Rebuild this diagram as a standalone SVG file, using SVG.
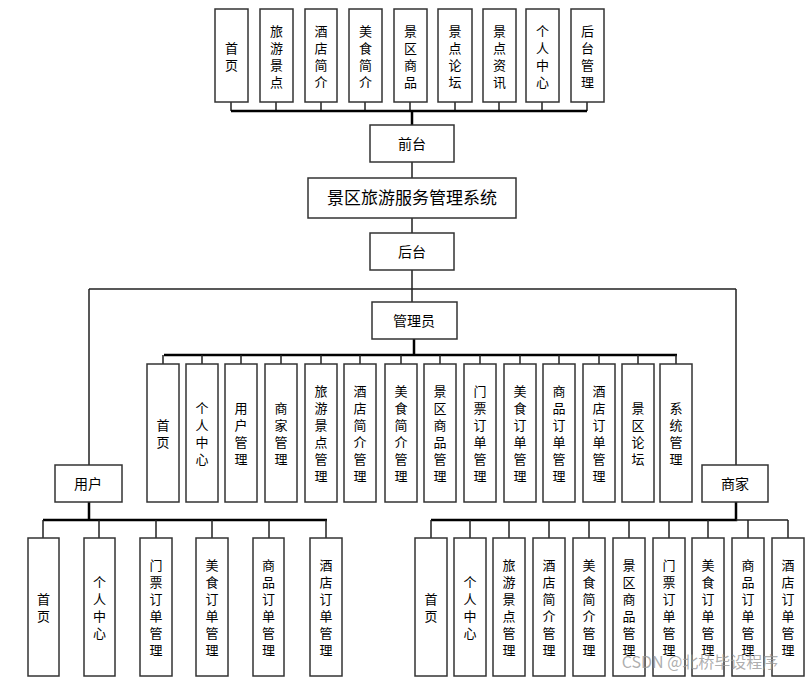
<svg xmlns="http://www.w3.org/2000/svg" width="812" height="680" viewBox="0 0 812 680">
<style>
rect{fill:#fff;stroke:#333;stroke-width:1.5}
text{font-family:"Noto Sans CJK SC","Liberation Sans",sans-serif;font-size:13px;fill:#000;text-anchor:middle}
.l{stroke:#222;stroke-width:1.5;fill:none}
.b{stroke:#000;stroke-width:2.5;fill:none}
.big{font-size:17px}
.m{font-size:14px}
</style>
<rect x="0" y="0" width="812" height="680" style="stroke:none"/>
<g id="connectors">
<path class="l" d="M231 102V111M276 102V111M321 102V111M365 102V111M410 102V111M455 102V111M499 102V111M542 102V111M587 102V111M231 111H587"/>
<path class="b" d="M231 111H587M412 111V125"/>
<path class="l" d="M412 162V178M412 218V233M412 270V302M89 289H736M89 289V465M736 289V465"/>
<path class="b" d="M414 339V355M164 355H677"/>
<path class="l" d="M163 355V364M202 355V364M241 355V364M281 355V364M321 355V364M360 355V364M401 355V364M440 355V364M480 355V364M520 355V364M559 355V364M599 355V364M638 355V364M676 355V364"/>
<path class="b" d="M89 502V520M43 520H327M736 502V520H431"/>
<path class="l" d="M43 520V538M99 520V538M156 520V538M212 520V538M269 520V538M326 520V538M431 520V538M470 520V538M509 520V538M549 520V538M589 520V538M629 520V538M669 520V538M708 520V538M748 520V538M788 520V538M788 520H736"/>
</g>
<g id="top">
<g id="t1"><rect x="215" y="9" width="33" height="93"/><text x="231.5" y="53">首</text><text x="231.5" y="70">页</text></g>
<g id="t2"><rect x="260" y="9" width="33" height="93"/><text x="276.5" y="36">旅</text><text x="276.5" y="53">游</text><text x="276.5" y="70">景</text><text x="276.5" y="87">点</text></g>
<g id="t3"><rect x="305" y="9" width="32" height="93"/><text x="321" y="36">酒</text><text x="321" y="53">店</text><text x="321" y="70">简</text><text x="321" y="87">介</text></g>
<g id="t4"><rect x="349" y="9" width="33" height="93"/><text x="365.5" y="36">美</text><text x="365.5" y="53">食</text><text x="365.5" y="70">简</text><text x="365.5" y="87">介</text></g>
<g id="t5"><rect x="394" y="9" width="33" height="93"/><text x="410.5" y="36">景</text><text x="410.5" y="53">区</text><text x="410.5" y="70">商</text><text x="410.5" y="87">品</text></g>
<g id="t6"><rect x="438" y="9" width="34" height="93"/><text x="455" y="36">景</text><text x="455" y="53">点</text><text x="455" y="70">论</text><text x="455" y="87">坛</text></g>
<g id="t7"><rect x="483" y="9" width="33" height="93"/><text x="499.5" y="36">景</text><text x="499.5" y="53">点</text><text x="499.5" y="70">资</text><text x="499.5" y="87">讯</text></g>
<g id="t8"><rect x="526" y="9" width="33" height="93"/><text x="542.5" y="36">个</text><text x="542.5" y="53">人</text><text x="542.5" y="70">中</text><text x="542.5" y="87">心</text></g>
<g id="t9"><rect x="571" y="9" width="33" height="93"/><text x="587.5" y="36">后</text><text x="587.5" y="53">台</text><text x="587.5" y="70">管</text><text x="587.5" y="87">理</text></g>
</g>
<g id="qiantai"><rect x="370" y="125" width="84" height="37"/><text class="m" x="412" y="149">前台</text></g>
<g id="system"><rect x="308" y="178" width="208" height="40"/><text class="big" x="412" y="204">景区旅游服务管理系统</text></g>
<g id="houtai"><rect x="370" y="233" width="84" height="37"/><text class="m" x="412" y="257">后台</text></g>
<g id="admin"><rect x="372" y="302" width="85" height="37"/><text class="m" x="414" y="326">管理员</text></g>
<g id="user"><rect x="55" y="465" width="67" height="37"/><text class="m" x="88" y="489">用户</text></g>
<g id="merchant"><rect x="702" y="465" width="66" height="37"/><text class="m" x="735" y="489">商家</text></g>
<g id="adminItems">
<g id="a1"><rect x="147" y="364" width="32" height="138"/><text x="163" y="430">首</text><text x="163" y="447">页</text></g>
<g id="a2"><rect x="186" y="364" width="32" height="138"/><text x="202" y="413">个</text><text x="202" y="430">人</text><text x="202" y="447">中</text><text x="202" y="464">心</text></g>
<g id="a3"><rect x="225" y="364" width="32" height="138"/><text x="241" y="413">用</text><text x="241" y="430">户</text><text x="241" y="447">管</text><text x="241" y="464">理</text></g>
<g id="a4"><rect x="265" y="364" width="32" height="138"/><text x="281" y="413">商</text><text x="281" y="430">家</text><text x="281" y="447">管</text><text x="281" y="464">理</text></g>
<g id="a5"><rect x="305" y="364" width="32" height="138"/><text x="321" y="396">旅</text><text x="321" y="413">游</text><text x="321" y="430">景</text><text x="321" y="447">点</text><text x="321" y="464">管</text><text x="321" y="481">理</text></g>
<g id="a6"><rect x="344" y="364" width="32" height="138"/><text x="360" y="396">酒</text><text x="360" y="413">店</text><text x="360" y="430">简</text><text x="360" y="447">介</text><text x="360" y="464">管</text><text x="360" y="481">理</text></g>
<g id="a7"><rect x="385" y="364" width="32" height="138"/><text x="401" y="396">美</text><text x="401" y="413">食</text><text x="401" y="430">简</text><text x="401" y="447">介</text><text x="401" y="464">管</text><text x="401" y="481">理</text></g>
<g id="a8"><rect x="424" y="364" width="32" height="138"/><text x="440" y="396">景</text><text x="440" y="413">区</text><text x="440" y="430">商</text><text x="440" y="447">品</text><text x="440" y="464">管</text><text x="440" y="481">理</text></g>
<g id="a9"><rect x="464" y="364" width="32" height="138"/><text x="480" y="396">门</text><text x="480" y="413">票</text><text x="480" y="430">订</text><text x="480" y="447">单</text><text x="480" y="464">管</text><text x="480" y="481">理</text></g>
<g id="a10"><rect x="504" y="364" width="32" height="138"/><text x="520" y="396">美</text><text x="520" y="413">食</text><text x="520" y="430">订</text><text x="520" y="447">单</text><text x="520" y="464">管</text><text x="520" y="481">理</text></g>
<g id="a11"><rect x="543" y="364" width="32" height="138"/><text x="559" y="396">商</text><text x="559" y="413">品</text><text x="559" y="430">订</text><text x="559" y="447">单</text><text x="559" y="464">管</text><text x="559" y="481">理</text></g>
<g id="a12"><rect x="583" y="364" width="32" height="138"/><text x="599" y="396">酒</text><text x="599" y="413">店</text><text x="599" y="430">订</text><text x="599" y="447">单</text><text x="599" y="464">管</text><text x="599" y="481">理</text></g>
<g id="a13"><rect x="622" y="364" width="32" height="138"/><text x="638" y="413">景</text><text x="638" y="430">区</text><text x="638" y="447">论</text><text x="638" y="464">坛</text></g>
<g id="a14"><rect x="660" y="364" width="32" height="138"/><text x="676" y="413">系</text><text x="676" y="430">统</text><text x="676" y="447">管</text><text x="676" y="464">理</text></g>
</g>
<g id="userItems">
<g id="u1"><rect x="28" y="538" width="31" height="138"/><text x="43.5" y="604">首</text><text x="43.5" y="621">页</text></g>
<g id="u2"><rect x="84" y="538" width="31" height="138"/><text x="99.5" y="587">个</text><text x="99.5" y="604">人</text><text x="99.5" y="621">中</text><text x="99.5" y="638">心</text></g>
<g id="u3"><rect x="140" y="538" width="32" height="138"/><text x="156" y="570">门</text><text x="156" y="587">票</text><text x="156" y="604">订</text><text x="156" y="621">单</text><text x="156" y="638">管</text><text x="156" y="655">理</text></g>
<g id="u4"><rect x="196" y="538" width="32" height="138"/><text x="212" y="570">美</text><text x="212" y="587">食</text><text x="212" y="604">订</text><text x="212" y="621">单</text><text x="212" y="638">管</text><text x="212" y="655">理</text></g>
<g id="u5"><rect x="253" y="538" width="31" height="138"/><text x="268.5" y="570">商</text><text x="268.5" y="587">品</text><text x="268.5" y="604">订</text><text x="268.5" y="621">单</text><text x="268.5" y="638">管</text><text x="268.5" y="655">理</text></g>
<g id="u6"><rect x="310" y="538" width="32" height="138"/><text x="326" y="570">酒</text><text x="326" y="587">店</text><text x="326" y="604">订</text><text x="326" y="621">单</text><text x="326" y="638">管</text><text x="326" y="655">理</text></g>
</g>
<g id="merchantItems">
<g id="m1"><rect x="415" y="538" width="32" height="138"/><text x="431" y="604">首</text><text x="431" y="621">页</text></g>
<g id="m2"><rect x="454" y="538" width="32" height="138"/><text x="470" y="587">个</text><text x="470" y="604">人</text><text x="470" y="621">中</text><text x="470" y="638">心</text></g>
<g id="m3"><rect x="493" y="538" width="32" height="138"/><text x="509" y="570">旅</text><text x="509" y="587">游</text><text x="509" y="604">景</text><text x="509" y="621">点</text><text x="509" y="638">管</text><text x="509" y="655">理</text></g>
<g id="m4"><rect x="533" y="538" width="32" height="138"/><text x="549" y="570">酒</text><text x="549" y="587">店</text><text x="549" y="604">简</text><text x="549" y="621">介</text><text x="549" y="638">管</text><text x="549" y="655">理</text></g>
<g id="m5"><rect x="573" y="538" width="32" height="138"/><text x="589" y="570">美</text><text x="589" y="587">食</text><text x="589" y="604">简</text><text x="589" y="621">介</text><text x="589" y="638">管</text><text x="589" y="655">理</text></g>
<g id="m6"><rect x="613" y="538" width="32" height="138"/><text x="629" y="570">景</text><text x="629" y="587">区</text><text x="629" y="604">商</text><text x="629" y="621">品</text><text x="629" y="638">管</text><text x="629" y="655">理</text></g>
<g id="m7"><rect x="653" y="538" width="32" height="138"/><text x="669" y="570">门</text><text x="669" y="587">票</text><text x="669" y="604">订</text><text x="669" y="621">单</text><text x="669" y="638">管</text><text x="669" y="655">理</text></g>
<g id="m8"><rect x="692" y="538" width="32" height="138"/><text x="708" y="570">美</text><text x="708" y="587">食</text><text x="708" y="604">订</text><text x="708" y="621">单</text><text x="708" y="638">管</text><text x="708" y="655">理</text></g>
<g id="m9"><rect x="732" y="538" width="32" height="138"/><text x="748" y="570">商</text><text x="748" y="587">品</text><text x="748" y="604">订</text><text x="748" y="621">单</text><text x="748" y="638">管</text><text x="748" y="655">理</text></g>
<g id="m10"><rect x="772" y="538" width="32" height="138"/><text x="788" y="570">酒</text><text x="788" y="587">店</text><text x="788" y="604">订</text><text x="788" y="621">单</text><text x="788" y="638">管</text><text x="788" y="655">理</text></g>
</g>
<text x="700" y="668" style="font-size:16px;fill:#999;fill-opacity:0.8">CSDN @北桥毕设程序</text>
</svg>
